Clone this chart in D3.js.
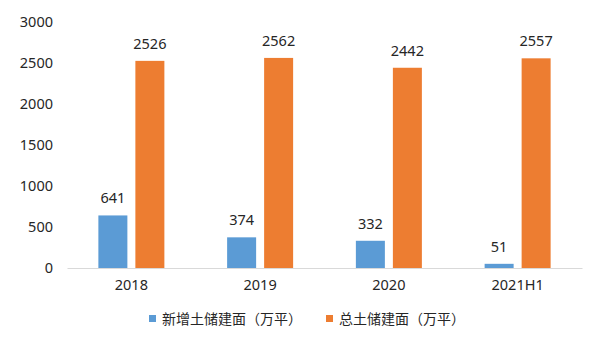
<!DOCTYPE html>
<html>
<head>
<meta charset="utf-8">
<script src="https://cdn.jsdelivr.net/npm/d3@7/dist/d3.min.js"></script>
<style>
  html, body { margin: 0; padding: 0; background: #fff; }
  svg text { font-family: "Noto Sans", "Noto Sans CJK SC", sans-serif; fill: #262626; }
  svg text.cjk { font-family: "Noto Sans CJK SC", sans-serif; }
</style>
</head>
<body>
<svg id="chart" width="605" height="350"></svg>
<script>
// Land bank floor area, 10k m² (万平)
const categories = ["2018", "2019", "2020", "2021H1"];
const seriesNames = ["新增土储建面（万平）", "总土储建面（万平）"];
const newLandBank = [641, 374, 332, 51];
const totalLandBank = [2526, 2562, 2442, 2557];
const yTicks = [0, 500, 1000, 1500, 2000, 2500, 3000];
const colors = ["#5B9BD5", "#ED7D31"];

const svg = d3.select("#chart");
const margin = { left: 67, right: 23, top: 22, bottom: 82 };
const width = 605 - margin.left - margin.right;
const height = 350 - margin.top - margin.bottom;

const g = svg.append("g").attr("transform", `translate(${margin.left},${margin.top})`);

const x = d3.scaleBand().domain(categories).range([0, width]).paddingInner(0).paddingOuter(0);
const xInner = d3.scaleBand().domain([0, 1]).range([0, 66]).paddingInner(8 / 37).paddingOuter(0);
const y = d3.scaleLinear().domain([0, 3000]).range([height, 0]);

// y axis labels (no axis line, no gridlines)
const yAxis = g.append("g").call(d3.axisLeft(y).tickValues(yTicks).tickFormat(d3.format("d")).tickSize(0).tickPadding(14));
yAxis.select(".domain").remove();
yAxis.selectAll("text").style("font-size", "14.5px").attr("fill", "#262626");

// bars
const rows = categories.map((c, i) => ({ cat: c, values: [newLandBank[i], totalLandBank[i]] }));
const groups = g.selectAll(".grp").data(rows).join("g")
  .attr("transform", d => `translate(${x(d.cat) + x.bandwidth() / 2 - 33},0)`);

groups.selectAll("rect").data(d => d.values.map((v, k) => ({ v, k }))).join("rect")
  .attr("x", d => xInner(d.k))
  .attr("width", xInner.bandwidth())
  .attr("y", d => y(d.v))
  .attr("height", d => height - y(d.v))
  .attr("fill", d => colors[d.k]);

groups.selectAll(".lbl").data(d => d.values.map((v, k) => ({ v, k }))).join("text")
  .attr("class", "lbl")
  .attr("x", d => xInner(d.k) + xInner.bandwidth() / 2)
  .attr("y", d => y(d.v) - 12)
  .attr("text-anchor", "middle")
  .style("font-size", "14.5px")
  .text(d => d.v);

// x axis
const xAxis = g.append("g").attr("transform", `translate(0,${height})`)
  .call(d3.axisBottom(x).tickSize(0).tickPadding(12));
xAxis.select(".domain").attr("stroke", "#D9D9D9").attr("stroke-width", 1);
xAxis.selectAll("text").style("font-size", "14.5px").attr("fill", "#262626");

// legend
const legendItems = [
  { name: seriesNames[0], color: colors[0], x: 149 },
  { name: seriesNames[1], color: colors[1], x: 326 }
];
const legend = svg.append("g");
const li = legend.selectAll("g").data(legendItems).join("g")
  .attr("transform", d => `translate(${d.x},319)`);
li.append("rect").attr("x", 0).attr("y", -4).attr("width", 7).attr("height", 7).attr("fill", d => d.color);
li.append("text").attr("class", "cjk").attr("x", 13).attr("y", 0).attr("dy", "0.35em")
  .style("font-size", "14px").text(d => d.name);
</script>
</body>
</html>
